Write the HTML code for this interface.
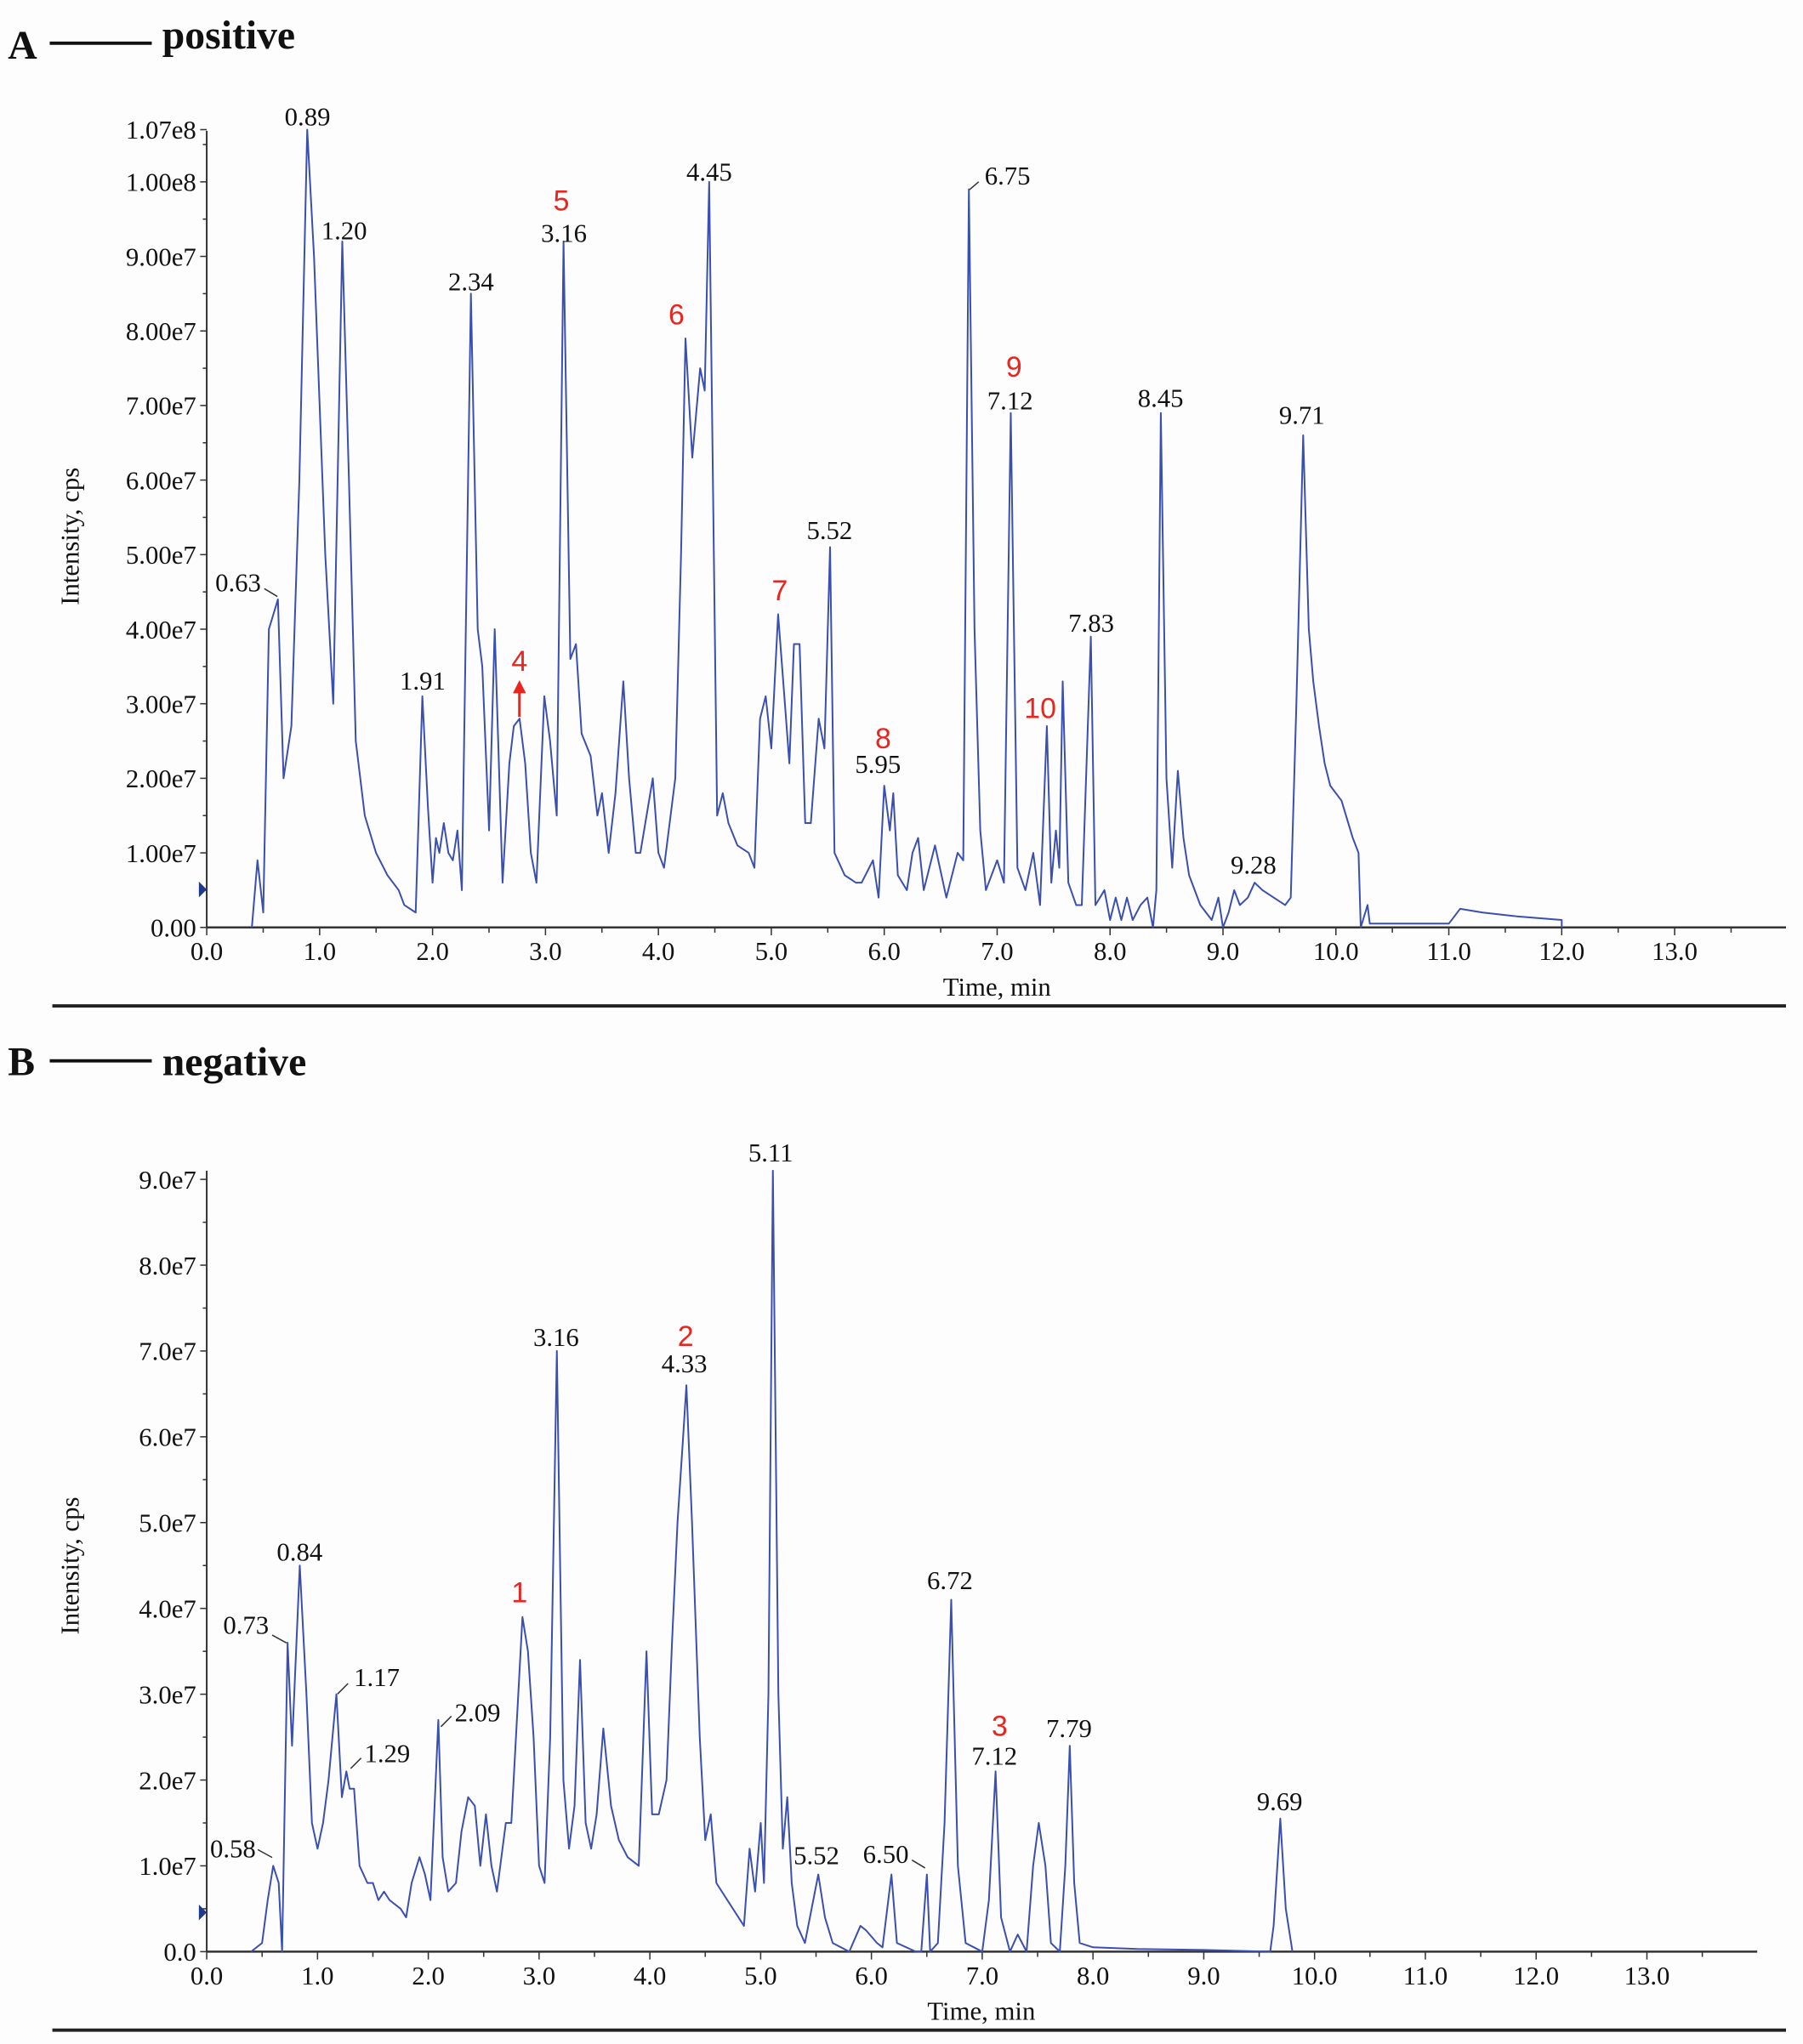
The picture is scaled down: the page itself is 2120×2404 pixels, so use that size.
<!DOCTYPE html>
<html><head><meta charset="utf-8"><style>
html,body{margin:0;padding:0;background:#fdfdfd;}
svg{display:block}
text{font-family:"Liberation Serif",serif;fill:#111}
.r{font-family:"Liberation Sans",sans-serif;fill:#e8251f;font-size:22px}
</style></head><body>
<svg id="s" width="2120" height="2404" viewBox="0 0 1378 1562.6" xmlns="http://www.w3.org/2000/svg">
<rect width="1378" height="1563" fill="#fdfdfd"/>
<g id="g"></g>
<!-- titles -->
<text x="6" y="45" font-size="31" font-weight="bold">A</text>
<line x1="38" y1="33" x2="116" y2="33" stroke="#111" stroke-width="2.5"/>
<text x="124" y="37" font-size="31" font-weight="bold">positive</text>
<text x="6" y="822" font-size="31" font-weight="bold">B</text>
<line x1="38" y1="811" x2="116" y2="811" stroke="#111" stroke-width="2.5"/>
<text x="124" y="822" font-size="31" font-weight="bold">negative</text>
<line x1="40" y1="769" x2="1365" y2="769" stroke="#222" stroke-width="2.5"/>
<line x1="40" y1="1552" x2="1365" y2="1552" stroke="#222" stroke-width="2.5"/>
<text x="762" y="761" font-size="20" text-anchor="middle">Time, min</text>
<text x="750" y="1544" font-size="20" text-anchor="middle">Time, min</text>
<text transform="translate(60,410) rotate(-90)" font-size="20" text-anchor="middle">Intensity, cps</text>
<text transform="translate(60,1197) rotate(-90)" font-size="20" text-anchor="middle">Intensity, cps</text>
<g font-size="20" text-anchor="middle">
<text x="235" y="96">0.89</text><text x="263" y="183">1.20</text><text x="360" y="222">2.34</text>
<text x="431" y="185">3.16</text><text x="542" y="138">4.45</text><text x="770" y="141">6.75</text>
<text x="772" y="313">7.12</text><text x="887" y="311">8.45</text><text x="995" y="324">9.71</text>
<text x="634" y="412">5.52</text><text x="182" y="452">0.63</text><text x="323" y="527">1.91</text>
<text x="834" y="483">7.83</text><text x="671" y="591">5.95</text><text x="958" y="668">9.28</text>
<text x="589" y="888">5.11</text><text x="425" y="1029">3.16</text><text x="523" y="1049">4.33</text>
<text x="229" y="1193">0.84</text><text x="726" y="1215">6.72</text><text x="188" y="1249">0.73</text>
<text x="288" y="1289">1.17</text><text x="365" y="1316">2.09</text><text x="296" y="1347">1.29</text>
<text x="817" y="1328">7.79</text><text x="760" y="1349">7.12</text><text x="978" y="1384">9.69</text>
<text x="178" y="1420">0.58</text><text x="624" y="1425">5.52</text><text x="677" y="1424">6.50</text>
</g>
<g stroke="#333" stroke-width="1" fill="none">
<path d="M741 145 L748 139"/><path d="M202 450 L212 456"/><path d="M208 1250 L219 1256"/>
<path d="M258 1295 L266 1287"/><path d="M337 1320 L345 1312"/><path d="M268 1352 L276 1344"/>
<path d="M197 1414 L208 1420"/><path d="M697 1422 L707 1428"/>
</g>
<g class="r" text-anchor="middle">
<text class="r" x="429" y="161">5</text><text class="r" x="517" y="248">6</text><text class="r" x="775" y="288">9</text>
<text class="r" x="596" y="459">7</text><text class="r" x="397" y="513">4</text><text class="r" x="795" y="549">10</text>
<text class="r" x="675" y="572">8</text><text class="r" x="524" y="1029">2</text><text class="r" x="397" y="1225">1</text>
<text class="r" x="764" y="1327">3</text>
</g>
<path d="M397 548 L397 526" stroke="#e8251f" stroke-width="2"/><path d="M392 530 L397 520 L402 530Z" fill="#e8251f"/>
<path d="M152 674 L158 680 L152 686Z" fill="#1f3a8a"/><path d="M152 1456 L158 1462 L152 1468Z" fill="#1f3a8a"/>
</svg>
<script>
const g=document.getElementById('g');const NS='http://www.w3.org/2000/svg';
function el(t,a,txt){const e=document.createElementNS(NS,t);for(const k in a)e.setAttribute(k,a[k]);if(txt!==undefined)e.textContent=txt;g.appendChild(e);return e;}
function panel(o){
 const X=t=>o.x0+t*o.px, Y=v=>o.y0-v*o.py;
 el('line',{x1:o.x0,y1:o.ytop,x2:o.x0,y2:o.y0,stroke:'#333','stroke-width':1.3});
 el('line',{x1:o.x0,y1:o.y0,x2:o.xend,y2:o.y0,stroke:'#333','stroke-width':1.6});
 for(let t=0;t<=13.9;t+=0.5){const maj=Math.abs(t-Math.round(t))<0.01;
  el('line',{x1:X(t),y1:o.y0,x2:X(t),y2:o.y0+(maj?6:4),stroke:'#333','stroke-width':1});
  if(maj&&t<=13)el('text',{x:X(t),y:o.y0+25,'font-size':20,'text-anchor':'middle'},t.toFixed(1));}
 o.yl.forEach(([v,l])=>{el('line',{x1:o.x0-5,y1:Y(v),x2:o.x0,y2:Y(v),stroke:'#333'});
  el('text',{x:o.x0-8,y:Y(v)+7,'font-size':20,'text-anchor':'end'},l);});
 for(let v=0.5;v<o.ymax;v+=1)el('line',{x1:o.x0-3,y1:Y(v),x2:o.x0,y2:Y(v),stroke:'#333'});
 const d=o.data.map((p,i)=>(i?'L':'M')+X(p[0]).toFixed(1)+' '+Y(p[1]).toFixed(1)).join(' ');
 el('path',{d:d,fill:'none',stroke:'#3a4fb0','stroke-width':1.3,'stroke-linejoin':'round'});
}
const A=[[0.4,0],[0.45,0.9],[0.5,0.2],[0.55,4.0],[0.63,4.4],[0.68,2.0],[0.75,2.7],[0.82,6],[0.89,10.7],[0.95,9],[1.0,7],[1.05,5],[1.12,3.0],[1.2,9.2],[1.26,6],[1.32,2.5],[1.4,1.5],[1.5,1.0],[1.6,0.7],[1.7,0.5],[1.75,0.3],[1.85,0.2],[1.91,3.1],[1.96,1.6],[2.0,0.6],[2.03,1.2],[2.06,1.0],[2.1,1.4],[2.14,1.0],[2.18,0.9],[2.22,1.3],[2.26,0.5],[2.34,8.5],[2.4,4.0],[2.44,3.5],[2.5,1.3],[2.55,4.0],[2.62,0.6],[2.68,2.2],[2.72,2.7],[2.77,2.8],[2.82,2.2],[2.87,1.0],[2.92,0.6],[2.99,3.1],[3.04,2.5],[3.1,1.5],[3.16,9.2],[3.22,3.6],[3.27,3.8],[3.32,2.6],[3.4,2.3],[3.46,1.5],[3.5,1.8],[3.56,1.0],[3.62,1.8],[3.69,3.3],[3.74,2.0],[3.8,1.0],[3.84,1.0],[3.95,2.0],[4.0,1.0],[4.05,0.8],[4.15,2.0],[4.2,5],[4.24,7.9],[4.3,6.3],[4.37,7.5],[4.41,7.2],[4.45,10.0],[4.5,4.0],[4.52,1.5],[4.57,1.8],[4.62,1.4],[4.7,1.1],[4.8,1.0],[4.85,0.8],[4.9,2.8],[4.95,3.1],[5.0,2.4],[5.06,4.2],[5.12,3.0],[5.16,2.2],[5.2,3.8],[5.25,3.8],[5.3,1.4],[5.35,1.4],[5.42,2.8],[5.47,2.4],[5.52,5.1],[5.56,1.0],[5.65,0.7],[5.75,0.6],[5.8,0.6],[5.9,0.9],[5.95,0.4],[6.0,1.9],[6.05,1.3],[6.08,1.8],[6.12,0.7],[6.2,0.5],[6.25,1.0],[6.3,1.2],[6.35,0.5],[6.45,1.1],[6.55,0.4],[6.65,1.0],[6.7,0.9],[6.75,9.9],[6.8,4.0],[6.85,1.3],[6.9,0.5],[7.0,0.9],[7.06,0.6],[7.12,6.9],[7.18,0.8],[7.25,0.5],[7.32,1.0],[7.38,0.3],[7.44,2.7],[7.48,0.6],[7.52,1.3],[7.55,0.8],[7.58,3.3],[7.63,0.6],[7.7,0.3],[7.75,0.3],[7.83,3.9],[7.87,0.3],[7.95,0.5],[8.0,0.1],[8.05,0.4],[8.1,0.1],[8.15,0.4],[8.2,0.1],[8.27,0.3],[8.33,0.4],[8.38,0.0],[8.41,0.5],[8.45,6.9],[8.5,2.0],[8.55,0.8],[8.6,2.1],[8.65,1.2],[8.7,0.7],[8.8,0.3],[8.9,0.1],[8.96,0.4],[9.0,0.0],[9.05,0.2],[9.1,0.5],[9.15,0.3],[9.22,0.4],[9.28,0.6],[9.35,0.5],[9.45,0.4],[9.55,0.3],[9.6,0.4],[9.65,3.0],[9.71,6.6],[9.76,4.0],[9.8,3.3],[9.85,2.7],[9.9,2.2],[9.95,1.9],[10.05,1.7],[10.15,1.2],[10.2,1.0],[10.22,0.0],[10.28,0.3],[10.3,0.05],[10.5,0.05],[11.0,0.05],[11.05,0.15],[11.1,0.25],[11.3,0.2],[11.6,0.15],[12.0,0.1],[12.0,0]];
const B=[[0.4,0],[0.5,0.1],[0.55,0.6],[0.6,1.0],[0.65,0.8],[0.68,0],[0.73,3.6],[0.77,2.4],[0.84,4.5],[0.9,3.0],[0.95,1.5],[1.0,1.2],[1.05,1.5],[1.1,2.0],[1.17,3.0],[1.22,1.8],[1.26,2.1],[1.29,1.9],[1.33,1.9],[1.38,1.0],[1.45,0.8],[1.5,0.8],[1.55,0.6],[1.6,0.7],[1.65,0.6],[1.75,0.5],[1.8,0.4],[1.85,0.8],[1.92,1.1],[1.97,0.9],[2.02,0.6],[2.09,2.7],[2.13,1.1],[2.18,0.7],[2.25,0.8],[2.3,1.4],[2.36,1.8],[2.42,1.7],[2.47,1.0],[2.52,1.6],[2.57,1.0],[2.62,0.7],[2.7,1.5],[2.75,1.5],[2.85,3.9],[2.9,3.5],[2.95,2.5],[3.0,1.0],[3.05,0.8],[3.1,2.5],[3.16,7.0],[3.22,2.0],[3.27,1.2],[3.32,1.7],[3.37,3.4],[3.42,1.5],[3.47,1.2],[3.52,1.6],[3.58,2.6],[3.65,1.7],[3.72,1.3],[3.8,1.1],[3.9,1.0],[3.97,3.5],[4.02,1.6],[4.08,1.6],[4.15,2.0],[4.2,3.6],[4.25,5.0],[4.3,6.0],[4.33,6.6],[4.38,5.0],[4.45,2.5],[4.5,1.3],[4.55,1.6],[4.6,0.8],[4.7,0.6],[4.8,0.4],[4.85,0.3],[4.9,1.2],[4.95,0.7],[5.0,1.5],[5.03,0.8],[5.07,3.0],[5.11,9.1],[5.16,3.0],[5.2,1.2],[5.24,1.8],[5.28,0.8],[5.33,0.3],[5.4,0.1],[5.52,0.9],[5.58,0.4],[5.65,0.1],[5.8,0.0],[5.9,0.3],[5.95,0.25],[6.05,0.1],[6.1,0.05],[6.18,0.9],[6.23,0.1],[6.4,0.0],[6.45,0.0],[6.5,0.9],[6.53,0.0],[6.6,0.1],[6.66,1.5],[6.72,4.1],[6.78,1.0],[6.85,0.1],[7.0,0.0],[7.06,0.6],[7.12,2.1],[7.17,0.4],[7.25,0.0],[7.32,0.2],[7.4,0.0],[7.46,1.0],[7.51,1.5],[7.57,1.0],[7.62,0.1],[7.7,0.0],[7.75,1.0],[7.79,2.4],[7.83,0.8],[7.88,0.1],[8.0,0.05],[8.4,0.03],[9.0,0.02],[9.6,0.0],[9.63,0.3],[9.69,1.55],[9.74,0.5],[9.8,0.0]];
const ylA=[[0,'0.00']];for(let i=1;i<=10;i++)ylA.push([i,i<10?i+'.00e7':'1.00e8']);ylA.push([10.7,'1.07e8']);
panel({x0:158,y0:709,px:86.3,py:57,ytop:100,xend:1365,ymax:10.7,yl:ylA,data:A});
const ylB=[[0,'0.0']];for(let i=1;i<=9;i++)ylB.push([i,i+'.0e7']);
panel({x0:158,y0:1492,px:84.67,py:65.6,ytop:895,xend:1343,ymax:9.1,yl:ylB,data:B});
</script>
</body></html>
